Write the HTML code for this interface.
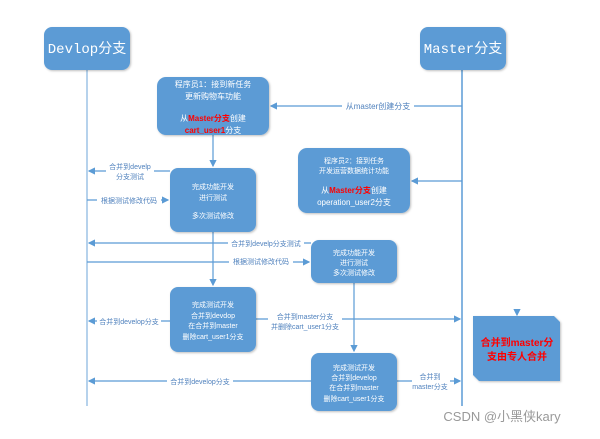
<!DOCTYPE html>
<html><head><meta charset="utf-8"><style>
body{margin:0;background:#fff;}
svg text{font-family:"Liberation Sans","Noto Sans CJK SC",sans-serif;}
svg text.m{font-family:"Liberation Mono","Noto Sans CJK SC",monospace;}
</style></head><body>
<svg width="600" height="434" viewBox="0 0 600 434" xmlns="http://www.w3.org/2000/svg">
<defs>
<marker id="a" markerWidth="6" markerHeight="6" refX="5" refY="3" orient="auto"><path d="M0,0 L6,3 L0,6z" fill="#5b9bd5"/></marker>
<filter id="s"><feDropShadow dx="1" dy="1" stdDeviation="1" flood-opacity="0.25"/></filter>
</defs>
<g stroke="#9dc3e6" stroke-width="1.5" fill="none">
<line x1="87" y1="70" x2="87" y2="406"/>
<line x1="462" y1="70" x2="462" y2="406" stroke="#5b9bd5"/>
</g>
<g stroke="#5b9bd5" stroke-width="1.2" fill="none" marker-end="url(#a)">
<line x1="462" y1="106" x2="271" y2="106"/>
<line x1="213" y1="135" x2="213" y2="166"/>
<line x1="170" y1="171" x2="89" y2="171"/>
<line x1="87" y1="200" x2="168" y2="200"/>
<line x1="462" y1="181" x2="412" y2="181"/>
<line x1="213" y1="232" x2="213" y2="285"/>
<line x1="311" y1="243" x2="89" y2="243"/>
<line x1="87" y1="262" x2="309" y2="262"/>
<line x1="354" y1="283" x2="354" y2="351"/>
<line x1="170" y1="321" x2="89" y2="321"/>
<line x1="256" y1="319" x2="460" y2="319"/>
<line x1="311" y1="381" x2="89" y2="381"/>
<line x1="397" y1="381" x2="460" y2="381"/>
<line x1="517" y1="309" x2="517" y2="315"/>
</g>
<g fill="#fff" stroke="none">
<rect x="342" y="100" width="72" height="12"/>
<rect x="106" y="162" width="48" height="18"/>
<rect x="97" y="194" width="64" height="12"/>
<rect x="228" y="237" width="76" height="12"/>
<rect x="229" y="256" width="64" height="12"/>
<rect x="97" y="315" width="64" height="12"/>
<rect x="268" y="311" width="74" height="22"/>
<rect x="167" y="375" width="66" height="12"/>
<rect x="412" y="372" width="38" height="20"/>
</g>
<g filter="url(#s)" fill="#5b9bd5">
<rect x="44" y="27" width="86" height="43" rx="8"/>
<rect x="420" y="27" width="86" height="43" rx="8"/>
<rect x="157" y="77" width="112" height="58" rx="9"/>
<rect x="170" y="168" width="86" height="64" rx="8"/>
<rect x="298" y="148" width="112" height="65" rx="9"/>
<rect x="311" y="240" width="86" height="43" rx="8"/>
<rect x="170" y="287" width="86" height="65" rx="8"/>
<rect x="311" y="353" width="86" height="58" rx="8"/>
<path d="M473,316 L554,316 L560,322 L560,381 L479,381 L473,375z"/>
</g>
<g font-size="14" fill="#fff" text-anchor="middle">
<text class="m" x="87" y="53">Devlop分支</text>
<text class="m" x="463" y="53">Master分支</text>
</g>
<g font-size="8" fill="#fff" text-anchor="middle">
<text x="213" y="87">程序员1：接到新任务</text>
<text x="213" y="99">更新购物车功能</text>
<text x="213" y="121">从<tspan fill="#f00" font-weight="bold">Master分支</tspan>创建</text>
<text x="213" y="133"><tspan fill="#f00" font-weight="bold">cart_user1</tspan>分支</text>
<text x="213" y="189" font-size="7">完成功能开发</text>
<text x="213" y="200" font-size="7">进行测试</text>
<text x="213" y="218" font-size="7">多次测试修改</text>
<text x="354" y="163" font-size="7">程序员2：接到任务</text>
<text x="354" y="173" font-size="7">开发运营数据统计功能</text>
<text x="354" y="193">从<tspan fill="#f00" font-weight="bold">Master分支</tspan>创建</text>
<text x="354" y="205">operation_user2分支</text>
<text x="354" y="255" font-size="7">完成功能开发</text>
<text x="354" y="265" font-size="7">进行测试</text>
<text x="354" y="275" font-size="7">多次测试修改</text>
<text x="213" y="307" font-size="7">完成测试开发</text>
<text x="213" y="318" font-size="7">合并到devdop</text>
<text x="213" y="328" font-size="7">在合并到master</text>
<text x="213" y="339" font-size="7">删除cart_user1分支</text>
<text x="354" y="370" font-size="7">完成测试开发</text>
<text x="354" y="380" font-size="7">合并到develop</text>
<text x="354" y="390" font-size="7">在合并到master</text>
<text x="354" y="401" font-size="7">删除cart_user1分支</text>
<text x="517" y="346" fill="#f00" font-weight="bold" font-size="10">合并到master分</text>
<text x="517" y="360" fill="#f00" font-weight="bold" font-size="10">支由专人合并</text>
</g>
<g font-size="7" fill="#4f81bd" text-anchor="middle">
<text x="378" y="109" font-size="8">从master创建分支</text>
<text x="130" y="169">合并到develp</text>
<text x="130" y="179">分支测试</text>
<text x="129" y="203">根据测试修改代码</text>
<text x="266" y="246">合并到develp分支测试</text>
<text x="261" y="264">根据测试修改代码</text>
<text x="129" y="324">合并到develop分支</text>
<text x="305" y="319">合并到master分支</text>
<text x="305" y="329">并删除cart_user1分支</text>
<text x="200" y="384">合并到develop分支</text>
<text x="430" y="379">合并到</text>
<text x="430" y="389">master分支</text>
</g>
<text x="502" y="421" font-size="13" fill="#999" text-anchor="middle">CSDN @小黑侠kary</text>
</svg>
</body></html>
